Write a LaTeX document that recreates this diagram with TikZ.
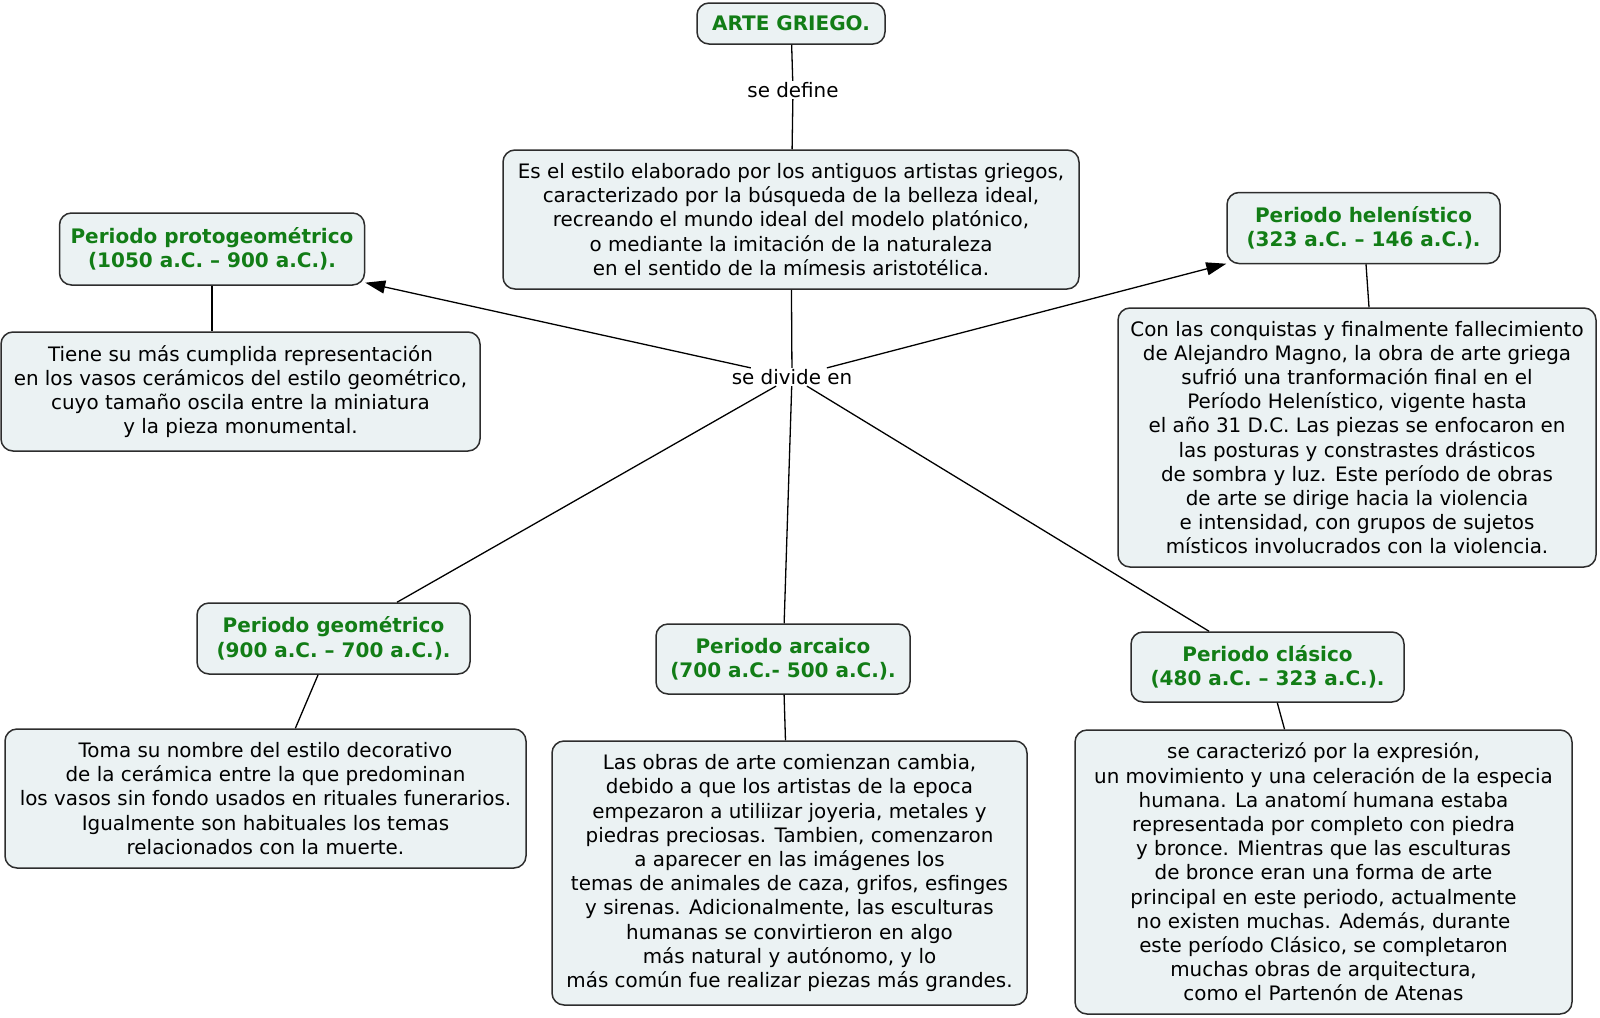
\documentclass[tikz,border=0pt]{standalone}
\usepackage{fontspec}
\setmainfont{DejaVu Sans}
\usetikzlibrary{arrows.meta}
\definecolor{titlegreen}{RGB}{18,125,22}
\definecolor{boxfill}{RGB}{235,242,243}
\definecolor{boxline}{RGB}{45,45,45}
\tikzset{
  cbox/.style={draw=boxline, fill=boxfill, line width=0.75pt, rounded corners=6pt,
    align=center, inner sep=0pt, font=\fontsize{9.95pt}{12.1pt}\selectfont},
  tbox/.style={cbox, text=titlegreen, font=\fontsize{10pt}{12.2pt}\selectfont\bfseries},
  sz/.style 2 args={minimum width=#1*0.5pt, minimum height=#2*0.5pt},
  lbl/.style={inner sep=0.5pt, font=\fontsize{9.95pt}{12.1pt}\selectfont},
  conn/.style={line width=0.65pt, draw=black},
  arr/.style={conn, -{Triangle[length=10pt,width=6.5pt]}}
}
\begin{document}
\begin{tikzpicture}[x=0.5pt,y=-0.5pt]
\useasboundingbox (0,0) rectangle (1600,1017);

\node[tbox, sz={188}{41}] (arte) at (791,23.5) {ARTE GRIEGO.};
\node[cbox, sz={576}{139}] (def) at (791,219.5)
 {Es el estilo elaborado por los antiguos artistas griegos,\\
  caracterizado por la búsqueda de la belleza ideal,\\
  recreando el mundo ideal del modelo platónico,\\
  o mediante la imitación de la naturaleza\\
  en el sentido de la mímesis aristotélica.};

\node[tbox, sz={305}{72}] (proto) at (212,249)
 {Periodo protogeométrico\\(1050 a.C. – 900 a.C.).};
\node[cbox, sz={479}{119}] (protod) at (240.5,391.5)
 {Tiene su más cumplida representación\\
  en los vasos cerámicos del estilo geométrico,\\
  cuyo tamaño oscila entre la miniatura\\
  y la pieza monumental.};

\node[tbox, sz={273}{71}] (hele) at (1363.5,228)
 {Periodo helenístico\\(323 a.C. – 146 a.C.).};
\node[cbox, sz={478}{259}] (heled) at (1357,437.5)
 {Con las conquistas y finalmente fallecimiento\\
  de Alejandro Magno, la obra de arte griega\\
  sufrió una tranformación final en el\\
  Período Helenístico, vigente hasta\\
  el año 31 D.C. Las piezas se enfocaron en\\
  las posturas y constrastes drásticos\\
  de sombra y luz. Este período de obras\\
  de arte se dirige hacia la violencia\\
  e intensidad, con grupos de sujetos\\
  místicos involucrados con la violencia.};

\node[tbox, sz={273}{71}] (geo) at (333.5,638.5)
 {Periodo geométrico\\(900 a.C. – 700 a.C.).};
\node[cbox, sz={521}{139}] (geod) at (265.5,798.5)
 {Toma su nombre del estilo decorativo\\
  de la cerámica entre la que predominan\\
  los vasos sin fondo usados en rituales funerarios.\\
  Igualmente son habituales los temas\\
  relacionados con la muerte.};

\node[tbox, sz={254}{70}] (arc) at (783,659)
 {Periodo arcaico\\(700 a.C.- 500 a.C.).};
\node[cbox, sz={475}{264}] (arcd) at (789.5,873)
 {Las obras de arte comienzan cambia,\\
  debido a que los artistas de la epoca\\
  empezaron a utiliizar joyeria, metales y\\
  piedras preciosas. Tambien, comenzaron\\
  a aparecer en las imágenes los\\
  temas de animales de caza, grifos, esfinges\\
  y sirenas. Adicionalmente, las esculturas\\
  humanas se convirtieron en algo\\
  más natural y autónomo, y lo\\
  más común fue realizar piezas más grandes.};

\node[tbox, sz={273}{70}] (clas) at (1267.5,667)
 {Periodo clásico\\(480 a.C. – 323 a.C.).};
\node[cbox, sz={497}{284}] (clasd) at (1323.5,872)
 {se caracterizó por la expresión,\\
  un movimiento y una celeración de la especia\\
  humana. La anatomí humana estaba\\
  representada por completo con piedra\\
  y bronce. Mientras que las esculturas\\
  de bronce eran una forma de arte\\
  principal en este periodo, actualmente\\
  no existen muchas. Además, durante\\
  este período Clásico, se completaron\\
  muchas obras de arquitectura,\\
  como el Partenón de Atenas};

\node[lbl] (define) at (793,90) {se define};
\node[lbl] (divide) at (792,377) {se divide en};

\draw[conn] (arte) -- (define) -- (def);
\draw[conn] (def) -- (divide);
\draw[arr] (divide) -- (proto);
\draw[arr] (divide) -- (hele);
\draw[conn] (divide) -- (geo);
\draw[conn] (divide) -- (arc);
\draw[conn] (divide) -- (clas);
\draw[conn] (proto.south) -- (proto.south |- protod.north);
\draw[conn] ([xshift=1.25pt]hele.south) -- ([xshift=2.75pt]hele.south |- heled.north);
\draw[conn] (geo) -- (geod);
\draw[conn] (arc) -- (arcd);
\draw[conn] (clas) -- (clasd);
\end{tikzpicture}
\end{document}
